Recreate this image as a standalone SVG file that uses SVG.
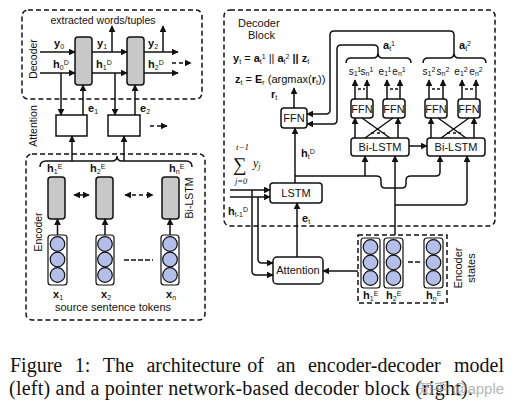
<svg xmlns="http://www.w3.org/2000/svg" width="524" height="411" viewBox="0 0 524 411">
<defs>
<marker id="ah" viewBox="0 0 10 10" refX="9" refY="5" markerWidth="7" markerHeight="7" markerUnits="userSpaceOnUse" orient="auto-start-reverse"><path d="M0,0 L10,5 L0,10 z" fill="#111"/></marker>
<style>
.ln{fill:none;stroke:#111;stroke-width:1.5}
.ar{marker-end:url(#ah)}
.ar2{marker-start:url(#ah);marker-end:url(#ah)}
.dash{stroke-dasharray:4 3}
.box{fill:#fff;stroke:#111;stroke-width:1.5}
.cell{fill:#c8c8c8;stroke:#111;stroke-width:1.5}
.col{fill:#fff;stroke:#111;stroke-width:1.2}
.circ{fill:#b3bfe8;stroke:#111;stroke-width:1.2}
.frame{fill:none;stroke:#111;stroke-width:1.5;stroke-dasharray:5 3}
text{font-family:"Liberation Sans",Arial,sans-serif;fill:#111}
.t{font-size:11px}
.b{font-size:11px;font-weight:bold}
.s{font-size:7px;font-weight:normal}
.m{text-anchor:middle}
.cap{font-family:"Liberation Serif","Times New Roman",serif;font-size:20px}
.ser{font-family:"Liberation Serif","Times New Roman",serif;font-style:italic}
</style>
</defs>
<rect width="524" height="411" fill="#fff"/>

<!-- LEFT: encoder-decoder model -->
<g id="decoder-frame">
<rect class="frame" x="22" y="10" width="180" height="89" rx="6"/>
<text class="t m" x="103" y="24" style="font-size:10.5px">extracted words/tuples</text>
<text class="t m" transform="translate(37,59) rotate(-90)" style="font-size:10.5px">Decoder</text>
</g>
<g id="dec-cell1"><rect class="cell" x="75" y="37" width="17" height="48" rx="3"/></g>
<g id="dec-cell2"><rect class="cell" x="127" y="37" width="17" height="48" rx="3"/></g>
<g id="attn1"><rect class="box" x="56" y="115" width="31" height="21"/></g>
<g id="attn2"><rect class="box" x="108" y="115" width="32" height="21"/></g>
<text class="t m" transform="translate(37,126) rotate(-90)" style="font-size:10.5px">Attention</text>

<g id="encoder-frame">
<rect class="frame" x="26" y="154" width="179" height="166" rx="6"/>
<text class="t m" transform="translate(42,232) rotate(-90)" style="font-size:10.5px">Encoder</text>
<text class="t m" transform="translate(193,198) rotate(-90)" style="font-size:10.5px">Bi-LSTM</text>
<text class="t m" x="113" y="311">source sentence tokens</text>
</g>
<g id="enc-cell1"><rect class="cell" x="48" y="177" width="17" height="42" rx="3"/></g>
<g id="enc-cell2"><rect class="cell" x="96" y="177" width="17" height="42" rx="3"/></g>
<g id="enc-celln"><rect class="cell" x="162" y="177" width="17" height="42" rx="3"/></g>
<g id="tok1"><rect class="col" x="48" y="235" width="19" height="50" rx="3"/><circle class="circ" cx="57.5" cy="244" r="7.3"/><circle class="circ" cx="57.5" cy="259.5" r="7.3"/><circle class="circ" cx="57.5" cy="275" r="7.3"/></g>
<g id="tok2"><rect class="col" x="96" y="235" width="18" height="50" rx="3"/><circle class="circ" cx="105" cy="244" r="7.3"/><circle class="circ" cx="105" cy="259.5" r="7.3"/><circle class="circ" cx="105" cy="275" r="7.3"/></g>
<g id="tokn"><rect class="col" x="161" y="235" width="18" height="50" rx="3"/><circle class="circ" cx="170" cy="244" r="7.3"/><circle class="circ" cx="170" cy="259.5" r="7.3"/><circle class="circ" cx="170" cy="275" r="7.3"/></g>

<g id="left-labels">
<text class="b" x="54" y="47">y<tspan class="s" dy="1.5">0</tspan></text>
<text class="b" x="53" y="68">h<tspan class="s" dy="1.5">0</tspan><tspan class="s" dy="-5">D</tspan></text>
<text class="b" x="97" y="47">y<tspan class="s" dy="1.5">1</tspan></text>
<text class="b" x="96" y="68">h<tspan class="s" dy="1.5">1</tspan><tspan class="s" dy="-5">D</tspan></text>
<text class="b" x="148" y="47">y<tspan class="s" dy="1.5">2</tspan></text>
<text class="b" x="148" y="68">h<tspan class="s" dy="1.5">2</tspan><tspan class="s" dy="-5">D</tspan></text>
<text class="b" x="88" y="112">e<tspan class="s" dy="1.5">1</tspan></text>
<text class="b" x="140" y="112">e<tspan class="s" dy="1.5">2</tspan></text>
<text class="b" x="47" y="172">h<tspan class="s" dy="1.5">1</tspan><tspan class="s" dy="-5">E</tspan></text>
<text class="b" x="90" y="172">h<tspan class="s" dy="1.5">2</tspan><tspan class="s" dy="-5">E</tspan></text>
<text class="b" x="169" y="172">h<tspan class="s" dy="1.5">n</tspan><tspan class="s" dy="-5">E</tspan></text>
<text class="b" x="53" y="298">x<tspan class="s" dy="1.5">1</tspan></text>
<text class="b" x="101" y="298">x<tspan class="s" dy="1.5">2</tspan></text>
<text class="b" x="166" y="298">x<tspan class="s" dy="1.5">n</tspan></text>
</g>

<g id="left-connectors">
<path class="ln ar" d="M40,52 L75,52"/>
<path class="ln ar" d="M40,73 L75,73"/>
<path class="ln ar" d="M92,52 L127,52"/>
<path class="ln ar" d="M92,73 L127,73"/>
<path class="ln ar" d="M112,52 L112,26"/>
<path class="ln ar" d="M144,52 L178,52"/>
<path class="ln ar" d="M144,73 L178,73"/>
<path class="ln ar" d="M163,52 L163,26"/>
<path class="ln ar dash" d="M172,63 L191,63"/>
<path class="ln ar" d="M61,73 L61,115"/>
<path class="ln ar" d="M115,73 L115,115"/>
<path class="ln ar" d="M83,115 L83,85"/>
<path class="ln ar" d="M135,115 L135,85"/>
<path class="ln ar dash" d="M150,126 L167,126"/>
<path class="ln" d="M40,167 Q40,161 46,161 L112,161 Q117,161 117,156 Q117,161 122,161 L186,161 Q192,161 192,167"/>
<path class="ln ar" d="M72,161 L72,136"/>
<path class="ln ar" d="M124,161 L124,136"/>
<path class="ln ar2" d="M74,195 L89,195"/>
<path class="ln ar2 dash" d="M125,195 L153,195"/>
<path class="ln ar" d="M57.5,235 L57.5,219"/>
<path class="ln ar" d="M105,235 L105,219"/>
<path class="ln ar" d="M170,235 L170,219"/>
<path class="ln" d="M124,260 L153,260" style="stroke-dasharray:5 2"/>
</g>

<!-- RIGHT: decoder block -->
<g id="block-frame">
<rect class="frame" x="224" y="10" width="271" height="216" rx="6"/>
<text class="t" x="238" y="27">Decoder</text>
<text class="t" x="248" y="39">Block</text>
<text class="t" x="233" y="62"><tspan style="font-weight:bold">y</tspan><tspan class="s" dy="1.5">t</tspan><tspan dy="-1.5"> = </tspan><tspan style="font-weight:bold">a</tspan><tspan class="s" dy="1.5">t</tspan><tspan class="s" dy="-5">1</tspan><tspan dy="3.5"> || </tspan><tspan style="font-weight:bold">a</tspan><tspan class="s" dy="1.5">t</tspan><tspan class="s" dy="-5">2</tspan><tspan dy="3.5" style="font-weight:bold"> || z</tspan><tspan class="s" dy="1.5">t</tspan></text>
<text class="t" x="235" y="83"><tspan style="font-weight:bold">z</tspan><tspan class="s" dy="1.5">t</tspan><tspan dy="-1.5"> = </tspan><tspan style="font-weight:bold">E</tspan><tspan class="s" dy="1.5">r</tspan><tspan dy="-1.5"> (argmax(</tspan><tspan style="font-weight:bold">r</tspan><tspan class="s" dy="1.5">t</tspan><tspan dy="-1.5">))</tspan></text>
</g>
<g id="ffn-out"><rect class="box" x="281" y="108" width="26" height="20" rx="3"/><text class="t m" x="294" y="122">FFN</text></g>
<g id="ffn1"><rect class="box" x="351" y="99" width="22" height="19" rx="3"/><text class="t m" x="362" y="113">FFN</text></g>
<g id="ffn2"><rect class="box" x="383" y="99" width="22" height="19" rx="3"/><text class="t m" x="394" y="113">FFN</text></g>
<g id="ffn3"><rect class="box" x="425" y="99" width="22" height="19" rx="3"/><text class="t m" x="436" y="113">FFN</text></g>
<g id="ffn4"><rect class="box" x="458" y="99" width="22" height="19" rx="3"/><text class="t m" x="469" y="113">FFN</text></g>
<g id="bilstm1"><rect class="box" x="351" y="138" width="58" height="18" rx="3"/><text class="t m" x="380" y="151">Bi-LSTM</text></g>
<g id="bilstm2"><rect class="box" x="427" y="138" width="58" height="18" rx="3"/><text class="t m" x="456" y="151">Bi-LSTM</text></g>
<g id="lstm"><rect class="box" x="270" y="183" width="52" height="20" rx="3"/><text class="t m" x="296" y="197">LSTM</text></g>
<g id="attention"><rect class="box" x="273" y="257" width="50" height="27" rx="4"/><text class="t m" x="298" y="274">Attention</text></g>
<g id="encoder-states">
<rect class="frame" x="358" y="235" width="89" height="68"/>
<rect class="col" x="361" y="238" width="19" height="50" rx="3"/><circle class="circ" cx="370.5" cy="247" r="7.3"/><circle class="circ" cx="370.5" cy="262.5" r="7.3"/><circle class="circ" cx="370.5" cy="278" r="7.3"/>
<rect class="col" x="384" y="238" width="19" height="50" rx="3"/><circle class="circ" cx="393.5" cy="247" r="7.3"/><circle class="circ" cx="393.5" cy="262.5" r="7.3"/><circle class="circ" cx="393.5" cy="278" r="7.3"/>
<rect class="col" x="424" y="238" width="19" height="50" rx="3"/><circle class="circ" cx="433.5" cy="247" r="7.3"/><circle class="circ" cx="433.5" cy="262.5" r="7.3"/><circle class="circ" cx="433.5" cy="278" r="7.3"/>
<path class="ln" d="M408,262 L422,262" style="stroke-dasharray:5 2"/>
<text class="b" x="363" y="299">h<tspan class="s" dy="1.5">1</tspan><tspan class="s" dy="-5">E</tspan></text>
<text class="b" x="386" y="299">h<tspan class="s" dy="1.5">2</tspan><tspan class="s" dy="-5">E</tspan></text>
<text class="b" x="426" y="299">h<tspan class="s" dy="1.5">n</tspan><tspan class="s" dy="-5">E</tspan></text>
<text class="t m" transform="translate(462,268) rotate(-90)">Encoder</text>
<text class="t m" transform="translate(475,268) rotate(-90)">states</text>
</g>

<g id="right-labels">
<text class="b" x="271" y="98">r<tspan class="s" dy="1.5">t</tspan></text>
<text class="b" x="383" y="49">a<tspan class="s" dy="1.5">t</tspan><tspan class="s" dy="-5">1</tspan></text>
<text class="b" x="459" y="49">a<tspan class="s" dy="1.5">t</tspan><tspan class="s" dy="-5">2</tspan></text>
<text class="b" x="301" y="157">h<tspan class="s" dy="1.5">t</tspan><tspan class="s" dy="-5">D</tspan></text>
<text class="b" x="302" y="222">e<tspan class="s" dy="1.5">t</tspan></text>
<text class="b" x="228" y="215">h<tspan class="s" dy="1.5">t-1</tspan><tspan class="s" dy="-5">D</tspan></text>
<g style="font-size:10px">
<text class="m" x="355" y="75">s<tspan class="s" dy="1">1</tspan><tspan class="s" dy="-4">1</tspan></text>
<text class="m" x="367" y="75">s<tspan class="s" dy="1">n</tspan><tspan class="s" dy="-4">1</tspan></text>
<text class="m" x="385" y="75">e<tspan class="s" dy="1">1</tspan><tspan class="s" dy="-4">1</tspan></text>
<text class="m" x="399" y="75">e<tspan class="s" dy="1">n</tspan><tspan class="s" dy="-4">1</tspan></text>
<text class="m" x="429" y="75">s<tspan class="s" dy="1">1</tspan><tspan class="s" dy="-4">2</tspan></text>
<text class="m" x="443" y="75">s<tspan class="s" dy="1">n</tspan><tspan class="s" dy="-4">2</tspan></text>
<text class="m" x="461" y="75">e<tspan class="s" dy="1">1</tspan><tspan class="s" dy="-4">2</tspan></text>
<text class="m" x="476" y="75">e<tspan class="s" dy="1">n</tspan><tspan class="s" dy="-4">2</tspan></text>
</g>
<text class="ser" x="236" y="150" style="font-size:9px">t−1</text>
<text x="233" y="171" style="font-family:'Liberation Serif',serif;font-size:19px">∑</text>
<text class="ser" x="253" y="167" style="font-size:12px">y<tspan dy="2" style="font-size:8px">j</tspan></text>
<text class="ser" x="235" y="184" style="font-size:8.5px">j=0</text>
</g>

<g id="right-connectors">
<path class="ln ar" d="M294,108 L294,88"/>
<path class="ln ar" d="M454,53 L454,35 Q454,31 450,31 L334,31 Q330,31 330,35 L330,110 Q330,114 326,114 L307,114"/>
<path class="ln ar" d="M378,53 L378,49 Q378,45 374,45 L341,45 Q337,45 337,49 L337,120 Q337,124 333,124 L307,124"/>
<path class="ln" d="M346,63 Q346,58 351,58 L373,58 Q378,58 378,53 Q378,58 383,58 L406,58 Q411,58 411,63"/>
<path class="ln" d="M423,63 Q423,58 428,58 L449,58 Q454,58 454,53 Q454,58 459,58 L481,58 Q486,58 486,63"/>
<path class="ln ar" d="M355,99 L355,80"/><path class="ln ar" d="M367,99 L367,80"/>
<path class="ln ar" d="M387,99 L387,80"/><path class="ln ar" d="M400,99 L400,80"/>
<path class="ln ar" d="M429,99 L429,80"/><path class="ln ar" d="M443,99 L443,80"/>
<path class="ln ar" d="M462,99 L462,80"/><path class="ln ar" d="M476,99 L476,80"/>
<path class="ln dash" d="M358,89 L365,89" style="stroke-dasharray:3 2"/>
<path class="ln dash" d="M390,89 L398,89" style="stroke-dasharray:3 2"/>
<path class="ln dash" d="M432,89 L441,89" style="stroke-dasharray:3 2"/>
<path class="ln dash" d="M465,89 L474,89" style="stroke-dasharray:3 2"/>
<path class="ln ar" d="M355,138 L355,118"/><path class="ln ar" d="M398,138 L398,118"/>
<path class="ln" d="M365,138 L393,118"/><path class="ln" d="M390,138 L362,118"/>
<path class="ln" d="M371,133 L385,133" style="stroke-dasharray:3 3"/>
<path class="ln ar" d="M431,138 L431,118"/><path class="ln ar" d="M474,138 L474,118"/>
<path class="ln" d="M441,138 L469,118"/><path class="ln" d="M466,138 L438,118"/>
<path class="ln" d="M447,133 L461,133" style="stroke-dasharray:3 3"/>
<path class="ln ar" d="M409,146 L427,146"/>
<path class="ln ar" d="M295,183 L295,128"/>
<path class="ln ar" d="M295,176 L376,176 Q381,176 381,180 L381,184 Q381,188 385,188 L402,188 Q406,188 406,184 L406,180 Q406,176 411,176 L436,176 Q440,176 440,172 L440,156"/>
<path class="ln ar" d="M365,176 L365,156"/>
<path class="ln ar" d="M395,235 L395,156"/>
<path class="ln ar" d="M395,205 L463,205 Q467,205 467,201 L467,156"/>
<path class="ln ar" d="M230,190 L270,190"/>
<path class="ln ar" d="M230,197 L270,197"/>
<path class="ln ar" d="M252,190 L252,271 Q252,275 256,275 L273,275"/>
<path class="ln ar" d="M258,197 L258,259 Q258,263 262,263 L273,263"/>
<path class="ln ar" d="M297,257 L297,203"/>
<path class="ln ar" d="M358,271 L323,271"/>
</g>

<g id="caption">
<text class="cap" x="10" y="372">Figure</text>
<text class="cap" x="74.7" y="372">1:</text>
<text class="cap" x="102.8" y="372">The</text>
<text class="cap" x="146.4" y="372">architecture</text>
<text class="cap" x="247.3" y="372">of</text>
<text class="cap" x="276.5" y="372">an</text>
<text class="cap" x="307.9" y="372">encoder-decoder</text>
<text class="cap" x="504" y="372" text-anchor="end">model</text>
<text class="cap" x="9" y="395" textLength="464" lengthAdjust="spacing">(left) and a pointer network-based decoder block (right).</text>
<text x="418" y="394" style="font-family:'Liberation Sans','Noto Sans CJK SC',sans-serif;font-size:15px;fill:#aaa;opacity:0.85">知乎 @apple</text>
</g>
</svg>
